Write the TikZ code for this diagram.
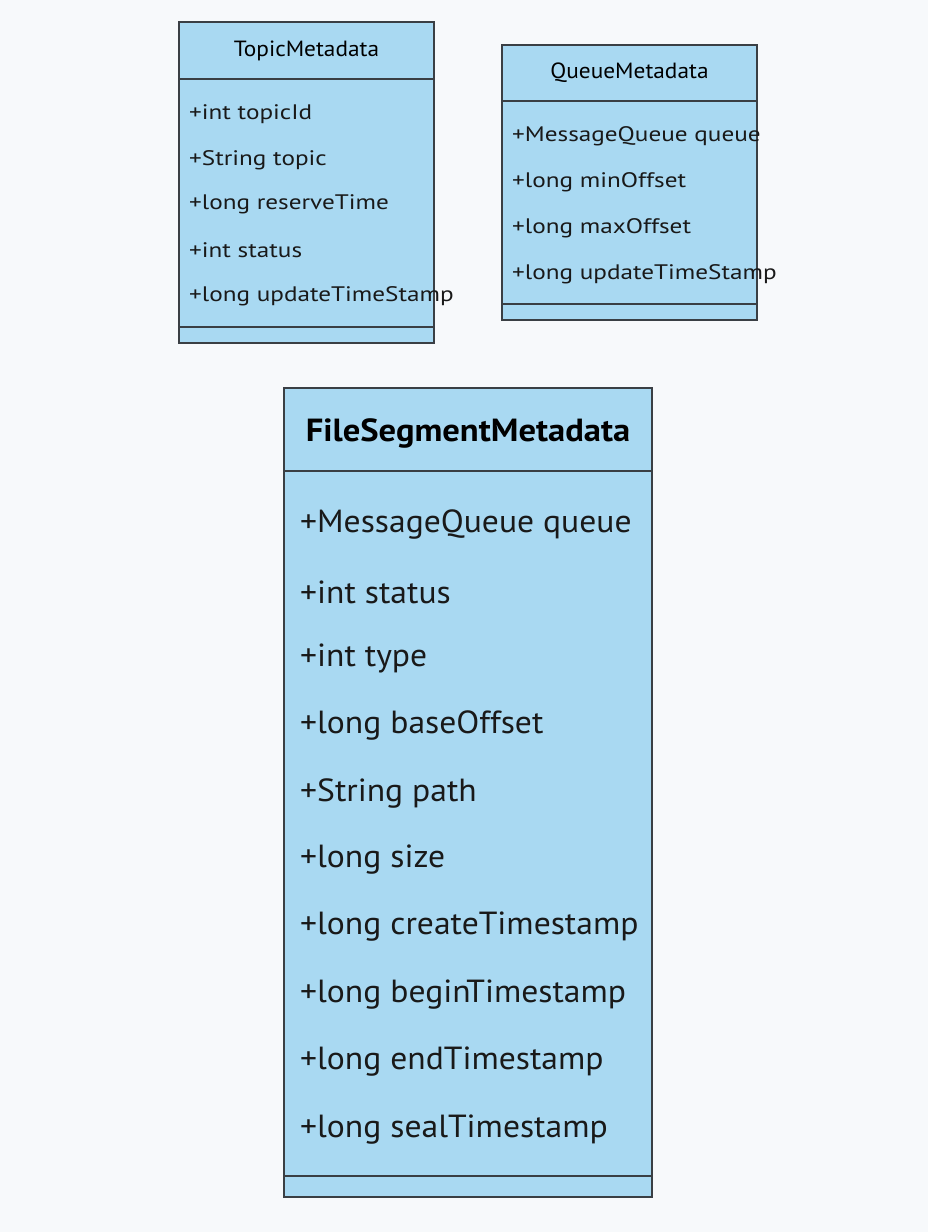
\documentclass[tikz,border=0pt]{standalone}
\usepackage{fontspec}
\usepackage{graphicx}
\setmainfont{PT Sans}
\definecolor{bg}{HTML}{F7F9FB}
\definecolor{cls}{HTML}{A9D9F2}
\definecolor{edge}{HTML}{3A3F44}
\newcommand{\sx}[2]{\scalebox{#1}[1]{#2}}
\begin{document}
\begin{tikzpicture}[x=1pt,y=-1pt,
  box/.style={draw=edge,fill=cls,line width=1.2pt},
  sep/.style={draw=edge,line width=1.2pt},
  sattr/.style={anchor=west,inner sep=0pt,font=\fontsize{21}{22}\selectfont,text=black!90},
  battr/.style={anchor=west,inner sep=0pt,font=\fontsize{32}{34}\selectfont,text=black!90}]
\fill[bg] (0,0) rectangle (928,1232);
\useasboundingbox (0,0) rectangle (928,1232);
% TopicMetadata
\draw[box] (179,22) rectangle (434,343);
\draw[sep] (179,79) -- (434,79);
\draw[sep] (179,327) -- (434,327);
\node[inner sep=0pt,font=\fontsize{22}{22}\selectfont] (t) at (306.5,51) {\sx{1.06}{TopicMetadata}};
\node[sattr] (t1) at (189,114) {\sx{1.2}{+int topicId}};
\node[sattr] (t2) at (189,160) {\sx{1.2}{+String topic}};
\node[sattr] (t3) at (189,204) {\sx{1.2}{+long reserveTime}};
\node[sattr] (t4) at (189,250) {\sx{1.2}{+int status}};
\node[sattr] (t5) at (189,296) {\sx{1.2}{+long updateTimeStamp}};
% QueueMetadata
\draw[box] (502,45) rectangle (757,320);
\draw[sep] (502,101) -- (757,101);
\draw[sep] (502,304) -- (757,304);
\node[inner sep=0pt,font=\fontsize{22}{22}\selectfont] (q) at (629.5,73) {\sx{1.06}{QueueMetadata}};
\node[sattr] (q1) at (512,136) {\sx{1.2}{+MessageQueue queue}};
\node[sattr] (q2) at (512,182) {\sx{1.2}{+long minOffset}};
\node[sattr] (q3) at (512,228) {\sx{1.2}{+long maxOffset}};
\node[sattr] (q4) at (512,274) {\sx{1.2}{+long updateTimeStamp}};
% FileSegmentMetadata
\draw[box] (284,388) rectangle (652,1197);
\draw[sep] (284,471) -- (652,471);
\draw[sep] (284,1176) -- (652,1176);
\node[inner sep=0pt,font=\fontsize{32}{34}\selectfont\bfseries] (f) at (468,433) {\sx{1.08}{FileSegmentMetadata}};
\node[battr] (f1) at (300,524) {\sx{1.05}{+MessageQueue queue}};
\node[battr] (f2) at (300,592) {\sx{1.05}{+int status}};
\node[battr] (f3) at (300,658) {\sx{1.05}{+int type}};
\node[battr] (f4) at (300,725) {\sx{1.05}{+long baseOffset}};
\node[battr] (f5) at (300,793) {\sx{1.05}{+String path}};
\node[battr] (f6) at (300,860) {\sx{1.05}{+long size}};
\node[battr] (f7) at (300,927) {\sx{1.05}{+long createTimestamp}};
\node[battr] (f8) at (300,995) {\sx{1.05}{+long beginTimestamp}};
\node[battr] (f9) at (300,1062) {\sx{1.05}{+long endTimestamp}};
\node[battr] (f10) at (300,1130) {\sx{1.05}{+long sealTimestamp}};
\end{tikzpicture}
\end{document}
